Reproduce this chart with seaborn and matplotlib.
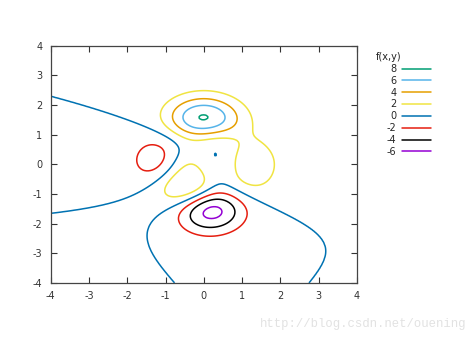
import numpy as np
import matplotlib
matplotlib.use("Agg")
import matplotlib.pyplot as plt
import seaborn as sns
from matplotlib.lines import Line2D

# contour levels and their colours (gnuplot default palette)
levels = [8, 6, 4, 2, 0, -2, -4, -6]
level_labels = ["8", "6", "4", "2", "0", "-2", "-4", "-6"]
level_colors = ["#009e73", "#56b4e9", "#e69f00", "#f0e442",
                "#0072b2", "#e51e10", "#000000", "#9400d3"]
ticks = [-4, -3, -2, -1, 0, 1, 2, 3, 4]
tick_labels = ["-4", "-3", "-2", "-1", "0", "1", "2", "3", "4"]
x_range = [-4, 4]
y_range = [-4, 4]


def f(x, y):
    # surface shown in the chart: "peaks"-type function as written in gnuplot,
    # where 1/3 is integer division (= 0), so the last term vanishes
    return (3 * (1 - x) ** 2 * np.exp(-x ** 2 - (y + 1) ** 2)
            - 10 * (x / 5 - x ** 3 - y ** 5) * np.exp(-x ** 2 - y ** 2)
            - (1 // 3) * np.exp(-(x + 1) ** 2 - y ** 2))


sns.set_theme(style="ticks")
plt.rcParams['font.family'] = ['DejaVu Sans']
plt.rcParams['contour.negative_linestyle'] = 'solid'

fig = plt.figure(figsize=(4.74, 3.40), dpi=100)
ax = fig.add_axes([0.107, 0.168, 0.646, 0.698])

xs = np.linspace(x_range[0], x_range[1], 161)
ys = np.linspace(y_range[0], y_range[1], 161)
X, Y = np.meshgrid(xs, ys)
Z = f(X, Y)

for lev, col in zip(levels, level_colors):
    ax.contour(X, Y, Z, levels=[lev], colors=[col], linewidths=1.1,
               linestyles="solid")

ax.set_xlim(x_range)
ax.set_ylim(y_range)
ax.set_xticks(ticks)
ax.set_xticklabels(tick_labels)
ax.set_yticks(ticks)
ax.set_yticklabels(tick_labels)
ax.tick_params(direction="in", top=True, right=True, length=4.5,
               width=0.8, colors="#333333", labelsize=7, pad=6)
for s in ax.spines.values():
    s.set_color("#444444")
    s.set_linewidth(0.9)

handles = [Line2D([0], [0], color=c, lw=1.1) for c in level_colors]
leg = fig.legend(handles, level_labels, markerfirst=False,
                 frameon=False, loc="upper left",
                 bbox_to_anchor=(0.816, 0.812), fontsize=7,
                 handlelength=2.9, labelspacing=0.19,
                 handletextpad=0.6, borderaxespad=0, borderpad=0)
fig.text(0.793, 0.832, "f(x,y)", ha="left", va="center", fontsize=7,
         color="#222222")

fig.text(0.983, 0.03, "http://blog.csdn.net/ouening", ha="right", va="bottom",
         color="#e2e2e2", fontsize=8.8, family="Liberation Mono")

fig.savefig("out.png", dpi=100)
